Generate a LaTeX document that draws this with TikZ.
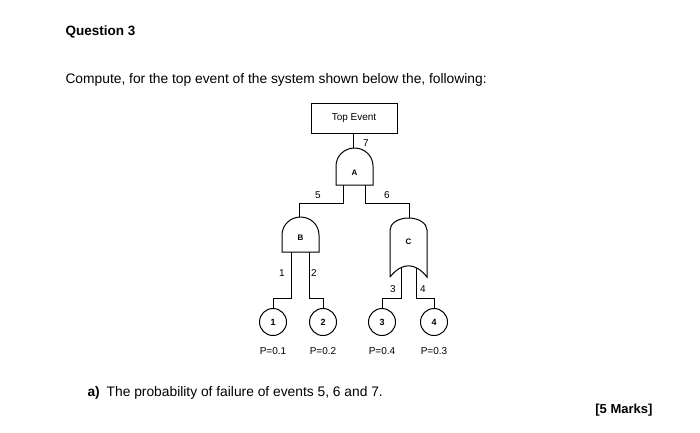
\documentclass[tikz,border=0pt]{standalone}
\usepackage{fontspec}
\setmainfont{Liberation Sans}
\begin{document}
\begin{tikzpicture}[x=1pt,y=-1pt,
  ln/.style={line width=1pt},
  ev/.style={draw,circle,line width=1pt,minimum size=27pt,inner sep=0pt,font=\fontsize{9}{10}\selectfont\bfseries},
  lab/.style={font=\fontsize{10}{11}\selectfont,inner sep=1pt},
  gl/.style={font=\fontsize{8}{9}\selectfont\bfseries}]
\useasboundingbox (0,0) rectangle (700,432);
\node[anchor=west,font=\fontsize{13.5}{15}\selectfont\bfseries] (q) at (62,32) {Question 3};
\node[anchor=west,font=\fontsize{13.8}{15}\selectfont] (c) at (62,80) {Compute, for the top event of the system shown below the, following:};
\node[anchor=west,font=\fontsize{13.8}{15}\selectfont] (a) at (84,393) {\textbf{a)}\enspace The probability of failure of events 5, 6 and 7.};
\node[anchor=east,font=\fontsize{13}{15}\selectfont\bfseries] (m) at (656,410) {[5 Marks]};
% top event
\node[draw,line width=1pt,minimum width=86pt,minimum height=30pt,font=\fontsize{10}{11}\selectfont] (top) at (354,118) {Top Event};
% gate A (AND)
\draw[ln] (336,185) -- (336,166) arc[start angle=180,end angle=360,x radius=18.5,y radius=18] -- (373,185) -- cycle;
\node[gl] (A) at (354.5,173) {A};
% gate B (AND)
\draw[ln] (282,252) -- (282,235) arc[start angle=180,end angle=360,x radius=18.5,y radius=18] -- (319,252) -- cycle;
\node[gl] (B) at (300.5,238) {B};
% gate C (OR)
\draw[ln] (390,277) -- (390,230) arc[start angle=180,end angle=360,x radius=18.5,y radius=12] -- (427,277)
  .. controls (415,262) and (402,262) .. (390,277);
\node[gl] (C) at (408.5,242) {C};
% events
\node[ev] (e1) at (273,322) {1};
\node[ev] (e2) at (323,322) {2};
\node[ev] (e3) at (382,322) {3};
\node[ev] (e4) at (434,322) {4};
\foreach \n/\p in {e1/0.1,e2/0.2,e3/0.4,e4/0.3}
  \node[lab] (p\n) at ([yshift=-29pt]\n.center) {P=\p};
% connectors
\draw[ln] (top.south -| 353,0) -- (353,148);
\draw[ln] (343,185) -- (343,203) -- (299,203) -- (299,217);
\draw[ln] (365,185) -- (365,203) -- (409,203) -- (409,218);
\draw[ln] (291,252) -- (291,298) -| (e1.north);
\draw[ln] (309,252) -- (309,298) -| (e2.north);
\draw[ln] (401,268) -- (401,298) -| (e3.north);
\draw[ln] (416,268) -- (416,298) -| (e4.north);
\node[lab] (l7) at (366,143) {7};
\node[lab] (l5) at (318,195) {5};
\node[lab] (l6) at (387,195) {6};
\node[lab] (l1) at (282,273) {1};
\node[lab] (l2) at (314,273) {2};
\node[lab] (l3) at (393,289) {3};
\node[lab] (l4) at (423,289) {4};
\end{tikzpicture}
\end{document}
